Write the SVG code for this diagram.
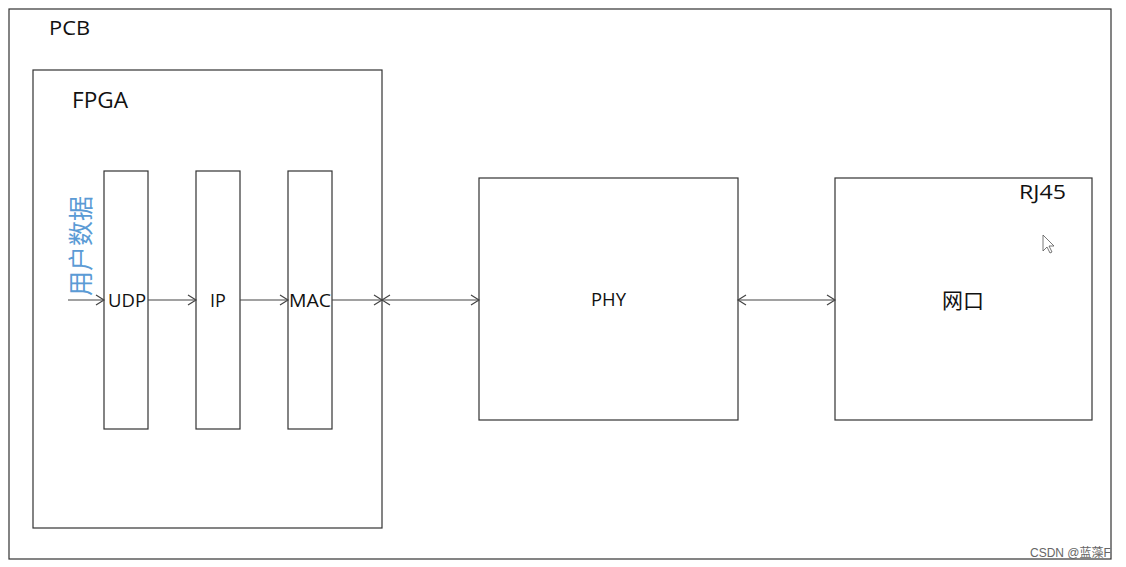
<svg xmlns="http://www.w3.org/2000/svg" width="1126" height="567" viewBox="0 0 1126 567">
<defs>
<marker id="arr" markerWidth="12" markerHeight="12" refX="10" refY="6" orient="auto-start-reverse" markerUnits="userSpaceOnUse">
<path d="M2,1 L10,6 L2,11" fill="none" stroke="#444" stroke-width="1.2"/>
</marker>
<style>
.box{fill:#fff;stroke:#333;stroke-width:1.2}
.lbl{font-family:"Open Sans","Noto Sans","Liberation Sans",sans-serif;fill:#111}
.cn{font-family:"Noto Sans CJK SC",sans-serif}
.ln{stroke:#444;stroke-width:1.2;fill:none}
</style>
</defs>
<rect width="1126" height="567" fill="#fff"/>
<g id="pcb">
<rect class="box" x="9" y="9" width="1102" height="550"/>
<text class="lbl" x="49" y="35" font-size="20" textLength="41" lengthAdjust="spacingAndGlyphs">PCB</text>
</g>
<g id="fpga">
<rect class="box" x="33" y="70" width="349" height="458"/>
<text class="lbl" x="72" y="108" font-size="21" textLength="56" lengthAdjust="spacingAndGlyphs">FPGA</text>
</g>
<g id="udp">
<rect class="box" x="104" y="171" width="44" height="258"/>
<text class="lbl" x="108" y="307" font-size="18" textLength="38" lengthAdjust="spacingAndGlyphs">UDP</text>
</g>
<g id="ip">
<rect class="box" x="196" y="171" width="44" height="258"/>
<text class="lbl" x="218" y="307" font-size="18" text-anchor="middle">IP</text>
</g>
<g id="mac">
<rect class="box" x="288" y="171" width="44" height="258"/>
<text class="lbl" x="289" y="307" font-size="18" textLength="42" lengthAdjust="spacingAndGlyphs">MAC</text>
</g>
<g id="phy">
<rect class="box" x="479" y="178" width="259" height="242"/>
<text class="lbl" x="591" y="306" font-size="18" textLength="35" lengthAdjust="spacingAndGlyphs">PHY</text>
</g>
<g id="rj45">
<rect class="box" x="835" y="178" width="257" height="242"/>
<text class="lbl" x="1019" y="199" font-size="20" textLength="47" lengthAdjust="spacingAndGlyphs">RJ45</text>
<text class="lbl cn" x="963" y="308" font-size="21" text-anchor="middle">网口</text>
</g>
<g id="userdata">
<text class="cn" transform="translate(90,246) rotate(-90)" font-size="25" fill="#5b9bd5" text-anchor="middle">用户数据</text>
</g>
<g id="connectors">
<line class="ln" x1="68" y1="300" x2="104" y2="300" marker-end="url(#arr)"/>
<line class="ln" x1="148" y1="300" x2="196" y2="300" marker-end="url(#arr)"/>
<line class="ln" x1="240" y1="300" x2="288" y2="300" marker-end="url(#arr)"/>
<line class="ln" x1="332" y1="300" x2="382" y2="300" marker-end="url(#arr)"/>
<line class="ln" x1="382" y1="300" x2="479" y2="300" marker-start="url(#arr)" marker-end="url(#arr)"/>
<line class="ln" x1="738" y1="300" x2="835" y2="300" marker-start="url(#arr)" marker-end="url(#arr)"/>
</g>
<path d="M1043,235 L1043,251 L1047,247 L1050,253 L1052,252 L1049,246 L1054,246 Z" fill="#fff" stroke="#555" stroke-width="0.8"/>
<text x="1030" y="557" font-family="Liberation Sans,Noto Sans CJK SC,sans-serif" font-size="12" fill="#666">CSDN @蓝藻F</text>
</svg>
